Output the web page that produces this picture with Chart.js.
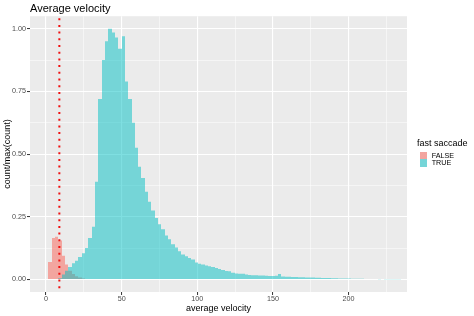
<!DOCTYPE html>
<html>
<head>
<meta charset="utf-8">
<script src="https://cdn.jsdelivr.net/npm/chart.js@4/dist/chart.umd.min.js"></script>
<style>
  body { margin: 0; background: #fff; }
  #wrap { position: relative; width: 474px; height: 316px; font-family: "Liberation Sans", Arial, sans-serif; }
  #legend { position: absolute; left: 417px; top: 138px; width: 57px; height: 40px; }
  #legend .title { position: absolute; left: 0; top: 0; font-size: 9px; line-height: 11px; color: #000; white-space: nowrap; }
  #legend .row { position: absolute; left: 0; height: 7.5px; width: 57px; }
  #legend .key { position: absolute; left: 3px; top: 0; width: 7px; height: 7.5px; }
  #legend .lab { position: absolute; left: 14.7px; top: 0; font-size: 7.2px; line-height: 7.5px; color: #000; }
</style>
</head>
<body>
<div id="wrap">
  <canvas id="my-chart" width="474" height="316"></canvas>
  <div id="legend"></div>
</div>
<script>
// histogram bins (average velocity), heights are count/max(count)
const binStart = 1.5
const binWidth = 2.2
const falseCounts = [0.07, 0.165, 0.17, 0.155, 0.095, 0.06, 0.035, 0.022, 0.013, 0.008, 0.004, 0.002]
const trueCounts = [
  0, 0, 0, 0.005, 0.02, 0.035, 0.05, 0.065, 0.075, 0.09,
  0.105, 0.125, 0.165, 0.21, 0.39, 0.72, 0.875, 0.95, 1.0, 0.985,
  0.965, 0.92, 0.97, 0.79, 0.72, 0.625, 0.525, 0.45, 0.405, 0.35,
  0.31, 0.275, 0.245, 0.22, 0.2, 0.175, 0.16, 0.14, 0.127, 0.113,
  0.1, 0.093, 0.086, 0.08, 0.068, 0.063, 0.06, 0.056, 0.053, 0.05,
  0.046, 0.042, 0.038, 0.034, 0.033, 0.027, 0.024, 0.023, 0.023, 0.02,
  0.018, 0.017, 0.017, 0.016, 0.016, 0.015, 0.014, 0.014, 0.015, 0.022,
  0.012, 0.011, 0.011, 0.01, 0.01, 0.009, 0.009, 0.008, 0.008, 0.008,
  0.007, 0.007, 0.006, 0.006, 0.006, 0.005, 0.005, 0.004, 0.004, 0.004,
  0.004, 0.003, 0.003, 0.003, 0.003, 0.002, 0.002, 0.002, 0.002, 0.001,
  0.002, 0.001, 0.001, 0.001, 0.001, 0.001
]
const seriesNames = ['FALSE', 'TRUE']
const seriesColors = ['rgba(248, 118, 109, 0.6)', 'rgba(0, 191, 196, 0.5)']
const cutoff = 8.8 // dotted threshold line
const xMajor = [0, 50, 100, 150, 200]
const yMajor = [0, 0.25, 0.5, 0.75, 1]

const font = '"Liberation Sans", Arial, sans-serif'

function toPoints(counts) {
  return counts.map((c, k) => ({ x: binStart + binWidth * (k + 0.5), y: c }))
}

function isMajor(list, v) {
  return list.some((m) => Math.abs(m - v) < 1e-9)
}

// grey panel behind the grid
const panelBg = {
  id: 'panelBg',
  beforeDraw(chart) {
    const { ctx, chartArea } = chart
    ctx.save()
    ctx.fillStyle = '#EBEBEB'
    ctx.fillRect(chartArea.left, chartArea.top, chartArea.width, chartArea.height)
    ctx.restore()
  }
}

// snap bar edges to whole pixels so the translucent bars don't show seams
const snapBars = {
  id: 'snapBars',
  afterUpdate(chart) {
    chart.data.datasets.forEach((ds, i) => {
      chart.getDatasetMeta(i).data.forEach((el) => {
        const l = Math.round(el.x - el.width / 2)
        const r = Math.round(el.x + el.width / 2)
        el.x = (l + r) / 2
        el.width = r - l
      })
    })
  }
}

// red dotted vertical line
const cutoffLine = {
  id: 'cutoffLine',
  afterDatasetsDraw(chart) {
    const { ctx, chartArea, scales } = chart
    const px = scales.x.getPixelForValue(cutoff)
    ctx.save()
    ctx.strokeStyle = '#F01010'
    ctx.lineWidth = 2
    ctx.setLineDash([2, 4.7])
    ctx.beginPath()
    ctx.moveTo(px, chartArea.top + 2)
    ctx.lineTo(px, chartArea.bottom)
    ctx.stroke()
    ctx.restore()
  }
}

const ctx = document.getElementById('my-chart').getContext('2d')
const chart = new Chart(ctx, {
  type: 'bar',
  data: {
    datasets: [
      {
        label: seriesNames[0],
        data: toPoints(falseCounts),
        backgroundColor: seriesColors[0],
        borderWidth: 0,
        grouped: false,
        order: 1
      },
      {
        label: seriesNames[1],
        data: toPoints(trueCounts),
        backgroundColor: seriesColors[1],
        borderWidth: 0,
        grouped: false,
        order: 0
      }
    ]
  },
  options: {
    responsive: false,
    animation: false,
    layout: { padding: { left: 0, right: 67, top: 0, bottom: 0 } },
    datasets: {
      bar: { barPercentage: 1, categoryPercentage: 1, inflateAmount: 0 }
    },
    plugins: {
      legend: { display: false },
      tooltip: { enabled: false },
      title: {
        display: true,
        text: 'Average velocity',
        align: 'start',
        fullSize: false,
        color: '#000',
        font: { family: font, size: 11, weight: 'normal', lineHeight: 1.2 },
        padding: { top: 2, bottom: 1 }
      }
    },
    scales: {
      x: {
        type: 'linear',
        min: -10.6,
        max: 238.6,
        offset: false,
        afterFit: (scale) => { scale.height = 24 },
        ticks: {
          stepSize: 25,
          includeBounds: false,
          autoSkip: false,
          maxRotation: 0,
          padding: 0,
          color: '#4D4D4D',
          font: { family: font, size: 7.2 },
          callback: (v) => isMajor(xMajor, v) ? String(v) : ''
        },
        grid: {
          offset: false,
          color: '#FFFFFF',
          lineWidth: (c) => c.tick && isMajor(xMajor, c.tick.value) ? 1.1 : 0.5,
          tickLength: 3,
          tickWidth: 1,
          tickColor: (c) => c.tick && isMajor(xMajor, c.tick.value) ? '#333333' : 'rgba(0,0,0,0)'
        },
        border: { display: false },
        title: {
          display: true,
          text: 'average velocity',
          color: '#000',
          font: { family: font, size: 9 },
          padding: { top: 0, bottom: 2 }
        }
      },
      y: {
        min: -0.05,
        max: 1.05,
        afterFit: (scale) => { scale.width = 30 },
        ticks: {
          stepSize: 0.125,
          includeBounds: false,
          autoSkip: false,
          padding: 1,
          color: '#4D4D4D',
          font: { family: font, size: 7.2 },
          callback: (v) => isMajor(yMajor, v) ? v.toFixed(2) : ''
        },
        grid: {
          color: '#FFFFFF',
          lineWidth: (c) => c.tick && isMajor(yMajor, c.tick.value) ? 1.1 : 0.5,
          tickLength: 3,
          tickWidth: 1,
          tickColor: (c) => c.tick && isMajor(yMajor, c.tick.value) ? '#333333' : 'rgba(0,0,0,0)'
        },
        border: { display: false },
        title: {
          display: true,
          text: 'count/max(count)',
          color: '#000',
          font: { family: font, size: 9 },
          padding: { top: 2, bottom: 0 }
        }
      }
    }
  },
  plugins: [panelBg, snapBars, cutoffLine]
})

// legend on the right, built from the series names and colours
const legend = document.getElementById('legend')
legend.innerHTML = '<div class="title">fast saccade</div>'
seriesNames.forEach((name, i) => {
  const row = document.createElement('div')
  row.className = 'row'
  row.style.top = (13.7 + i * 7.6) + 'px'
  row.innerHTML = '<div class="key" style="background: linear-gradient(' + seriesColors[i] + ', ' + seriesColors[i] + '), #EBEBEB"></div>' +
    '<div class="lab">' + name + '</div>'
  legend.appendChild(row)
})
</script>
</body>
</html>
